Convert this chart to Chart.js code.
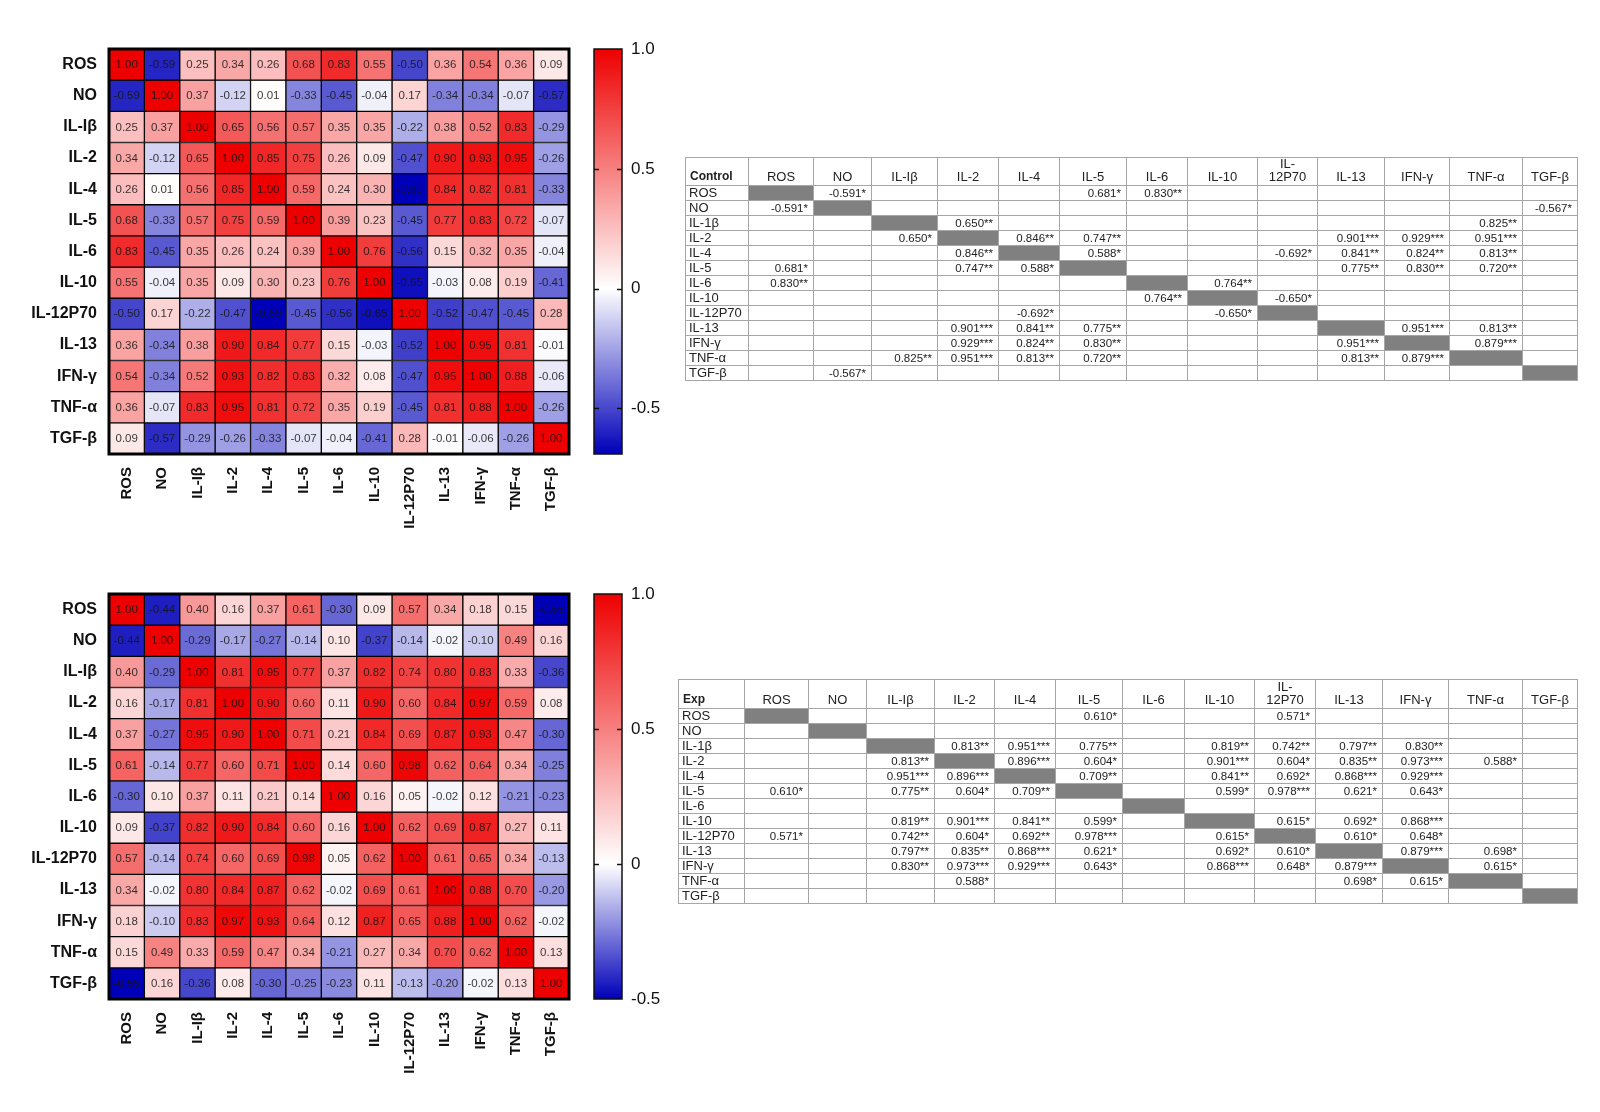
<!DOCTYPE html>
<html>
<head>
<meta charset="utf-8">
<title>Correlation heatmaps</title>
<script src="https://cdn.jsdelivr.net/npm/chart.js@4.4.0/dist/chart.umd.min.js"></script>
<style>
  body { margin: 0; background: #fff; font-family: "Liberation Sans", Arial, sans-serif; }
  #page { position: relative; width: 1600px; height: 1112px; overflow: hidden; }
  .hm { position: absolute; left: 0; width: 700px; height: 540px; }
  .tbl { position: absolute; color: #222; box-sizing: border-box; border-left: 1px solid #a6a6a6; border-top: 1px solid #a6a6a6; }
  .cell { position: absolute; box-sizing: border-box; border-right: 1px solid #a6a6a6; border-bottom: 1px solid #a6a6a6; white-space: pre-line; overflow: hidden; }
  .head { display: flex; align-items: flex-end; justify-content: center; text-align: center; font-size: 13px; line-height: 13px; padding-bottom: 2px; }
  .rowlab { font-size: 13px; padding-left: 3px; }
  .val { font-size: 11.5px; text-align: right; padding-right: 5px; }
  .diag { background: #808080; }
</style>
</head>
<body>
<div id="page">
  <div class="hm" style="top:0"><canvas id="hmControl" width="700" height="540"></canvas></div>
  <div class="hm" style="top:545px"><canvas id="hmExp" width="700" height="540"></canvas></div>
  <div id="tblControl" class="tbl" style="left:685px; top:157px"></div>
  <div id="tblExp" class="tbl" style="left:678px; top:679px"></div>
</div>
<script>
// proměnné
const vars = ["ROS", "NO", "IL-Iβ", "IL-2", "IL-4", "IL-5", "IL-6", "IL-10", "IL-12P70", "IL-13", "IFN-γ", "TNF-α", "TGF-β"];

// korelace - kontrola
const controlCorr = [
  [1.00, -0.59, 0.25, 0.34, 0.26, 0.68, 0.83, 0.55, -0.50, 0.36, 0.54, 0.36, 0.09],
  [-0.59, 1.00, 0.37, -0.12, 0.01, -0.33, -0.45, -0.04, 0.17, -0.34, -0.34, -0.07, -0.57],
  [0.25, 0.37, 1.00, 0.65, 0.56, 0.57, 0.35, 0.35, -0.22, 0.38, 0.52, 0.83, -0.29],
  [0.34, -0.12, 0.65, 1.00, 0.85, 0.75, 0.26, 0.09, -0.47, 0.90, 0.93, 0.95, -0.26],
  [0.26, 0.01, 0.56, 0.85, 1.00, 0.59, 0.24, 0.30, -0.69, 0.84, 0.82, 0.81, -0.33],
  [0.68, -0.33, 0.57, 0.75, 0.59, 1.00, 0.39, 0.23, -0.45, 0.77, 0.83, 0.72, -0.07],
  [0.83, -0.45, 0.35, 0.26, 0.24, 0.39, 1.00, 0.76, -0.56, 0.15, 0.32, 0.35, -0.04],
  [0.55, -0.04, 0.35, 0.09, 0.30, 0.23, 0.76, 1.00, -0.65, -0.03, 0.08, 0.19, -0.41],
  [-0.50, 0.17, -0.22, -0.47, -0.69, -0.45, -0.56, -0.65, 1.00, -0.52, -0.47, -0.45, 0.28],
  [0.36, -0.34, 0.38, 0.90, 0.84, 0.77, 0.15, -0.03, -0.52, 1.00, 0.95, 0.81, -0.01],
  [0.54, -0.34, 0.52, 0.93, 0.82, 0.83, 0.32, 0.08, -0.47, 0.95, 1.00, 0.88, -0.06],
  [0.36, -0.07, 0.83, 0.95, 0.81, 0.72, 0.35, 0.19, -0.45, 0.81, 0.88, 1.00, -0.26],
  [0.09, -0.57, -0.29, -0.26, -0.33, -0.07, -0.04, -0.41, 0.28, -0.01, -0.06, -0.26, 1.00]
];

// korelace - experiment
const expCorr = [
  [1.00, -0.44, 0.40, 0.16, 0.37, 0.61, -0.30, 0.09, 0.57, 0.34, 0.18, 0.15, -0.55],
  [-0.44, 1.00, -0.29, -0.17, -0.27, -0.14, 0.10, -0.37, -0.14, -0.02, -0.10, 0.49, 0.16],
  [0.40, -0.29, 1.00, 0.81, 0.95, 0.77, 0.37, 0.82, 0.74, 0.80, 0.83, 0.33, -0.36],
  [0.16, -0.17, 0.81, 1.00, 0.90, 0.60, 0.11, 0.90, 0.60, 0.84, 0.97, 0.59, 0.08],
  [0.37, -0.27, 0.95, 0.90, 1.00, 0.71, 0.21, 0.84, 0.69, 0.87, 0.93, 0.47, -0.30],
  [0.61, -0.14, 0.77, 0.60, 0.71, 1.00, 0.14, 0.60, 0.98, 0.62, 0.64, 0.34, -0.25],
  [-0.30, 0.10, 0.37, 0.11, 0.21, 0.14, 1.00, 0.16, 0.05, -0.02, 0.12, -0.21, -0.23],
  [0.09, -0.37, 0.82, 0.90, 0.84, 0.60, 0.16, 1.00, 0.62, 0.69, 0.87, 0.27, 0.11],
  [0.57, -0.14, 0.74, 0.60, 0.69, 0.98, 0.05, 0.62, 1.00, 0.61, 0.65, 0.34, -0.13],
  [0.34, -0.02, 0.80, 0.84, 0.87, 0.62, -0.02, 0.69, 0.61, 1.00, 0.88, 0.70, -0.20],
  [0.18, -0.10, 0.83, 0.97, 0.93, 0.64, 0.12, 0.87, 0.65, 0.88, 1.00, 0.62, -0.02],
  [0.15, 0.49, 0.33, 0.59, 0.47, 0.34, -0.21, 0.27, 0.34, 0.70, 0.62, 1.00, 0.13],
  [-0.55, 0.16, -0.36, 0.08, -0.30, -0.25, -0.23, 0.11, -0.13, -0.20, -0.02, 0.13, 1.00]
];

// rozsah barevné škály
const controlRange = [-0.69, 1.0];
const expRange = [-0.5, 1.0];
const colorbarTicks = [1.0, 0.5, 0, -0.5];

// tabulky významnosti
const tableCols = ["ROS", "NO", "IL-Iβ", "IL-2", "IL-4", "IL-5", "IL-6", "IL-10", "IL-\n12P70", "IL-13", "IFN-γ", "TNF-α", "TGF-β"];
const tableRows = ["ROS", "NO", "IL-1β", "IL-2", "IL-4", "IL-5", "IL-6", "IL-10", "IL-12P70", "IL-13", "IFN-γ", "TNF-α", "TGF-β"];

const controlSig = [
  ["", "-0.591*", "", "", "", "0.681*", "0.830**", "", "", "", "", "", ""],
  ["-0.591*", "", "", "", "", "", "", "", "", "", "", "", "-0.567*"],
  ["", "", "", "0.650**", "", "", "", "", "", "", "", "0.825**", ""],
  ["", "", "0.650*", "", "0.846**", "0.747**", "", "", "", "0.901***", "0.929***", "0.951***", ""],
  ["", "", "", "0.846**", "", "0.588*", "", "", "-0.692*", "0.841**", "0.824**", "0.813**", ""],
  ["0.681*", "", "", "0.747**", "0.588*", "", "", "", "", "0.775**", "0.830**", "0.720**", ""],
  ["0.830**", "", "", "", "", "", "", "0.764**", "", "", "", "", ""],
  ["", "", "", "", "", "", "0.764**", "", "-0.650*", "", "", "", ""],
  ["", "", "", "", "-0.692*", "", "", "-0.650*", "", "", "", "", ""],
  ["", "", "", "0.901***", "0.841**", "0.775**", "", "", "", "", "0.951***", "0.813**", ""],
  ["", "", "", "0.929***", "0.824**", "0.830**", "", "", "", "0.951***", "", "0.879***", ""],
  ["", "", "0.825**", "0.951***", "0.813**", "0.720**", "", "", "", "0.813**", "0.879***", "", ""],
  ["", "-0.567*", "", "", "", "", "", "", "", "", "", "", ""]
];

const expSig = [
  ["", "", "", "", "", "0.610*", "", "", "0.571*", "", "", "", ""],
  ["", "", "", "", "", "", "", "", "", "", "", "", ""],
  ["", "", "", "0.813**", "0.951***", "0.775**", "", "0.819**", "0.742**", "0.797**", "0.830**", "", ""],
  ["", "", "0.813**", "", "0.896***", "0.604*", "", "0.901***", "0.604*", "0.835**", "0.973***", "0.588*", ""],
  ["", "", "0.951***", "0.896***", "", "0.709**", "", "0.841**", "0.692*", "0.868***", "0.929***", "", ""],
  ["0.610*", "", "0.775**", "0.604*", "0.709**", "", "", "0.599*", "0.978***", "0.621*", "0.643*", "", ""],
  ["", "", "", "", "", "", "", "", "", "", "", "", ""],
  ["", "", "0.819**", "0.901***", "0.841**", "0.599*", "", "", "0.615*", "0.692*", "0.868***", "", ""],
  ["0.571*", "", "0.742**", "0.604*", "0.692**", "0.978***", "", "0.615*", "", "0.610*", "0.648*", "", ""],
  ["", "", "0.797**", "0.835**", "0.868***", "0.621*", "", "0.692*", "0.610*", "", "0.879***", "0.698*", ""],
  ["", "", "0.830**", "0.973***", "0.929***", "0.643*", "", "0.868***", "0.648*", "0.879***", "", "0.615*", ""],
  ["", "", "", "0.588*", "", "", "", "", "", "0.698*", "0.615*", "", ""],
  ["", "", "", "", "", "", "", "", "", "", "", "", ""]
];

Chart.defaults.font.family = '"Liberation Sans", Arial, sans-serif';

// barva: modrá - bílá - červená
function corrColor(v, lo, hi) {
    let r, g, b;
    if (v >= 0) {
        const t = Math.min(v / hi, 1);
        r = 255 - 17 * t; g = 255 * (1 - t); b = g;
    } else {
        const t = Math.min(v / lo, 1);
        r = 255 * (1 - t); g = r; b = 255 - 70 * t;
    }
    return `rgb(${Math.round(r)},${Math.round(g)},${Math.round(b)})`;
}

// popisky v buňkách, rámeček a barevná škála
const heatmapDecor = {
    id: "heatmapDecor",
    afterDatasetsDraw(chart) {
        const ctx = chart.ctx;
        const area = chart.chartArea;
        ctx.save();
        ctx.font = '11.5px "Liberation Sans", Arial, sans-serif';
        ctx.textAlign = "center";
        ctx.textBaseline = "middle";
        ctx.fillStyle = "rgba(20,20,20,0.85)";
        chart.data.datasets.forEach((ds, i) => {
            chart.getDatasetMeta(i).data.forEach((bar, j) => {
                ctx.fillText(ds.corr[j].toFixed(2), bar.x, (bar.y + bar.base) / 2 + 0.5);
            });
        });

        ctx.lineWidth = 3;
        ctx.strokeStyle = "#000";
        ctx.strokeRect(area.left, area.top, area.right - area.left, area.bottom - area.top);

        const cb = chart.scales.cb;
        const lo = cb.min, hi = cb.max;
        const x0 = area.right + 25, w = 28;
        const top = cb.getPixelForValue(hi), bot = cb.getPixelForValue(lo);
        const grad = ctx.createLinearGradient(0, top, 0, bot);
        grad.addColorStop(0, corrColor(hi, lo, hi));
        grad.addColorStop(hi / (hi - lo), "rgb(255,255,255)");
        grad.addColorStop(1, corrColor(lo, lo, hi));
        ctx.fillStyle = grad;
        ctx.fillRect(x0, top, w, bot - top);
        ctx.lineWidth = 1.5;
        ctx.strokeStyle = "#111";
        ctx.strokeRect(x0, top, w, bot - top);
        colorbarTicks.forEach(v => {
            if (v >= hi || v <= lo) return;
            const y = Math.round(cb.getPixelForValue(v)) + 0.5;
            ctx.beginPath();
            ctx.moveTo(x0, y); ctx.lineTo(x0 + 5, y);
            ctx.moveTo(x0 + w - 5, y); ctx.lineTo(x0 + w, y);
            ctx.stroke();
        });
        ctx.restore();
    }
};

function makeHeatmap(canvasId, corr, range) {
    const [lo, hi] = range;
    const datasets = corr.map((row, i) => ({
        label: vars[i],
        data: row.map(() => [i, i + 1]),
        corr: row,
        backgroundColor: row.map(v => corrColor(v, lo, hi)),
        borderColor: "#000",
        borderWidth: 1,
        borderSkipped: false,
        grouped: false,
        barPercentage: 1,
        categoryPercentage: 1,
        xAxisID: "x",
        yAxisID: "y"
    }));

    new Chart(document.getElementById(canvasId), {
        type: "bar",
        data: { labels: vars, datasets: datasets },
        options: {
            responsive: false,
            animation: false,
            events: [],
            layout: { padding: { top: 49, left: 0, right: 0, bottom: 0 } },
            plugins: { legend: { display: false }, tooltip: { enabled: false } },
            scales: {
                x: {
                    type: "category",
                    offset: true,
                    grid: { display: false, drawTicks: false },
                    border: { display: false },
                    ticks: { minRotation: 90, maxRotation: 90, autoSkip: false, padding: 13, color: "#111", font: { size: 15, weight: "bold" } },
                    afterFit: s => { s.height = 86; s.paddingLeft = 0; s.paddingRight = 0; }
                },
                y: { type: "linear", reverse: true, min: 0, max: vars.length, display: false },
                rows: {
                    type: "category",
                    position: "left",
                    labels: vars,
                    offset: true,
                    grid: { display: false, drawTicks: false },
                    border: { display: false },
                    ticks: { padding: 12, autoSkip: false, color: "#111", font: { size: 16, weight: "bold" } },
                    afterFit: s => { s.width = 109; s.paddingTop = 0; s.paddingBottom = 0; }
                },
                cb: {
                    type: "linear",
                    position: "right",
                    min: lo,
                    max: hi,
                    grid: { display: false, drawTicks: false },
                    border: { display: false },
                    afterBuildTicks: s => { s.ticks = colorbarTicks.map(v => ({ value: v })); },
                    ticks: { padding: 62, color: "#111", font: { size: 17 }, callback: v => v === 0 ? "0" : v.toFixed(1) },
                    afterFit: s => { s.width = 131; s.paddingTop = 0; s.paddingBottom = 0; }
                }
            }
        },
        plugins: [heatmapDecor]
    });
}

// tabulka jako absolutně umístěné buňky
function buildTable(elId, title, sig, widths, headH, rowH) {
    const el = document.getElementById(elId);
    const xs = [0];
    widths.forEach(w => xs.push(xs[xs.length - 1] + w));
    el.style.width = (xs[xs.length - 1] + 1) + "px";
    el.style.height = (headH + rowH * tableRows.length + 1) + "px";

    function cell(cls, x, y, w, h, text) {
        const d = document.createElement("div");
        d.className = "cell " + cls;
        d.style.left = x + "px"; d.style.top = y + "px";
        d.style.width = w + "px"; d.style.height = h + "px";
        if (cls.indexOf("head") < 0) d.style.lineHeight = (h - 1) + "px";
        d.textContent = text;
        el.appendChild(d);
        return d;
    }

    const t = cell("head", xs[0], 0, widths[0], headH, title);
    t.style.justifyContent = "flex-start";
    t.style.paddingLeft = "4px";
    t.style.fontWeight = "bold";
    t.style.fontSize = "12px";
    tableCols.forEach((c, j) => cell("head", xs[j + 1], 0, widths[j + 1], headH, c));

    tableRows.forEach((r, i) => {
        const y = headH + i * rowH;
        cell("rowlab", xs[0], y, widths[0], rowH, r);
        sig[i].forEach((s, j) => {
            cell(i === j ? "val diag" : "val", xs[j + 1], y, widths[j + 1], rowH, s);
        });
    });
}

makeHeatmap("hmControl", controlCorr, controlRange);
makeHeatmap("hmExp", expCorr, expRange);
buildTable("tblControl", "Control", controlSig, [63, 65, 58, 66, 61, 61, 67, 61, 70, 60, 67, 65, 73, 55], 28, 15);
buildTable("tblExp", "Exp", expSig, [66, 64, 58, 68, 60, 61, 67, 62, 70, 61, 67, 66, 74, 55], 29, 15);
</script>
</body>
</html>
